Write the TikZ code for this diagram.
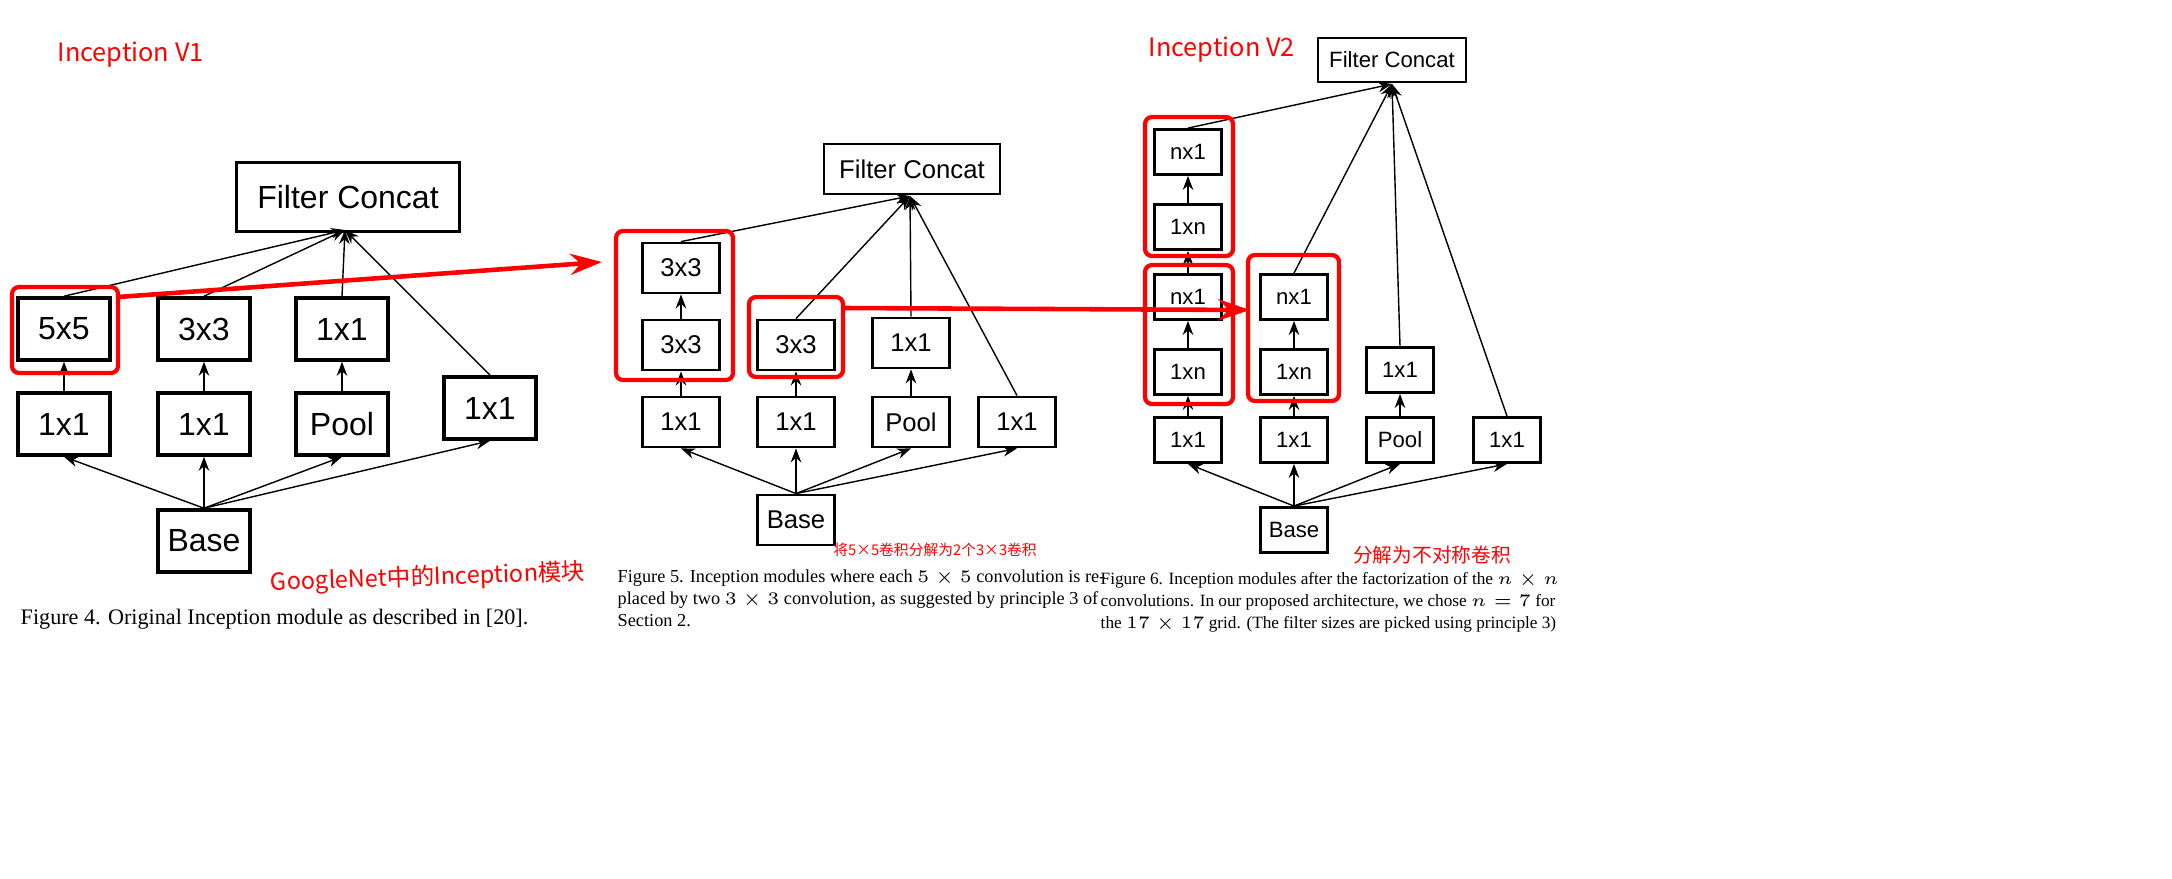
\documentclass[tikz,border=0pt]{standalone}
\usepackage{fontspec}
\setmainfont{Liberation Serif}
\newfontfamily\boxf{Liberation Sans}
\newfontfamily\cjk{Noto Sans CJK SC}
\usetikzlibrary{arrows.meta}
\begin{document}
\begin{tikzpicture}[x=0.01cm,y=-0.01cm,
 bA/.style={draw,line width=1pt,minimum width=0.92cm,minimum height=0.62cm,font=\boxf\fontsize{9.1}{11}\selectfont,inner sep=0},
 bB/.style={draw,line width=0.8pt,minimum width=0.77cm,minimum height=0.5cm,font=\boxf\fontsize{7.3}{9}\selectfont,inner sep=0},
 bC/.style={draw,line width=0.8pt,minimum width=0.67cm,minimum height=0.45cm,font=\boxf\fontsize{6.3}{8}\selectfont,inner sep=0},
 ar/.style={-{Stealth[length=4pt,width=3pt]},line width=0.4pt},
 rb/.style={draw=red,line width=1.2pt,rounded corners=2pt},
 ra/.style={red,line width=1.3pt,-{Stealth[length=9pt,width=6pt]}},
 captxt/.style={anchor=west,align=left,inner sep=0},
 hw/.style={red}]
\useasboundingbox (0,0) rectangle (2172,879);
% titles
\node[red,font=\cjk\fontsize{7.2}{9}\selectfont,anchor=west,inner sep=0] (t1) at (57,55) {Inception V1};
\node[red,font=\cjk\fontsize{7.2}{9}\selectfont,anchor=west,inner sep=0] (t2) at (1148,50) {Inception V2};
% ---- Figure 4
\node[bA,minimum width=2.23cm,minimum height=0.69cm] (fc4) at (348,197) {Filter Concat};
\node[bA] (a55) at (64,329) {5x5};
\node[bA] (a33) at (204,329) {3x3};
\node[bA] (a11t) at (342,329) {1x1};
\node[bA] (a11a) at (64,424) {1x1};
\node[bA] (a11b) at (204,424) {1x1};
\node[bA] (apool) at (342,424) {Pool};
\node[bA] (a11r) at (490,408) {1x1};
\node[bA] (abase) at (204,541) {Base};
\coordinate (c4) at (345,230);
\foreach \n in {a55,a33,a11t,a11r} \draw[ar] (\n.north) -- (c4);
\draw[ar] (a11a) -- (a55); \draw[ar] (a11b) -- (a33); \draw[ar] (apool) -- (a11t);
\foreach \n in {a11a,a11b,apool,a11r} \draw[ar] (abase.north) -- (\n.south);
\draw[rb] (12,287) rectangle (118,373);
\node[captxt,font=\fontsize{6.3}{7.6}\selectfont] (cap4) at (20,619) {Figure 4. Original Inception module as described in [20].};
\node[hw,rotate=2,font=\cjk\fontsize{6.7}{8}\selectfont] (h4) at (428,578) {GoogleNet中的Inception模块};
% ---- Figure 5
\node[bB,minimum width=1.76cm] (fc5) at (912,169) {Filter Concat};
\node[bB] (b33t) at (681,268) {3x3};
\node[bB] (b33l) at (681,345) {3x3};
\node[bB] (b33m) at (796,345) {3x3};
\node[bB] (b11t) at (911,343) {1x1};
\node[bB] (b11a) at (681,422) {1x1};
\node[bB] (b11b) at (796,422) {1x1};
\node[bB] (bpool) at (911,422) {Pool};
\node[bB] (b11r) at (1017,422) {1x1};
\node[bB] (bbase) at (796,520) {Base};
\coordinate (c5) at (910,196);
\foreach \n in {b33t,b33m,b11t,b11r} \draw[ar] (\n.north) -- (c5);
\draw[ar] (b33l) -- (b33t); \draw[ar] (b11a) -- (b33l); \draw[ar] (b11b) -- (b33m); \draw[ar] (bpool) -- (b11t);
\foreach \n in {b11a,b11b,bpool,b11r} \draw[ar] (bbase.north) -- (\n.south);
\draw[rb] (616,231) rectangle (733,380);
\draw[rb] (749,297) rectangle (843,377);
\node[captxt,font=\fontsize{5.2}{6.3}\selectfont] (cap5) at (617,598) {Figure 5. Inception modules where each $5\times5$ convolution is re-\\placed by two $3\times3$ convolution, as suggested by principle 3 of\\Section 2.};
\node[hw,font=\cjk\fontsize{4.2}{5}\selectfont] (h5) at (935,550) {将5×5卷积分解为2个3×3卷积};
% ---- Figure 6
\node[bC,minimum width=1.48cm,minimum height=0.44cm] (fc6) at (1392,60) {Filter Concat};
\node[bC] (cn1a) at (1188,152) {nx1};
\node[bC] (c1na) at (1188,227) {1xn};
\node[bC] (cn1b) at (1188,297) {nx1};
\node[bC] (c1nb) at (1188,372) {1xn};
\node[bC] (cn1c) at (1294,297) {nx1};
\node[bC] (c1nc) at (1294,372) {1xn};
\node[bC] (c11t) at (1400,370) {1x1};
\node[bC] (c11a) at (1188,440) {1x1};
\node[bC] (c11b) at (1294,440) {1x1};
\node[bC] (cpool) at (1400,440) {Pool};
\node[bC] (c11r) at (1507,440) {1x1};
\node[bC] (cbase) at (1294,530) {Base};
\coordinate (c6) at (1392,84);
\foreach \n in {cn1a,cn1c,c11t,c11r} \draw[ar] (\n.north) -- (c6);
\draw[ar] (c1na) -- (cn1a); \draw[ar] (cn1b) -- (c1na); \draw[ar] (c1nb) -- (cn1b); \draw[ar] (c11a) -- (c1nb);
\draw[ar] (c1nc) -- (cn1c); \draw[ar] (c11b) -- (c1nc); \draw[ar] (cpool) -- (c11t);
\foreach \n in {c11a,c11b,cpool,c11r} \draw[ar] (cbase.north) -- (\n.south);
\draw[rb] (1145,117) rectangle (1233,256);
\draw[rb] (1145,265) rectangle (1233,404);
\draw[rb] (1248,255) rectangle (1339,401);
\node[captxt,font=\fontsize{4.9}{6.3}\selectfont] (cap6) at (1100,602) {Figure 6. Inception modules after the factorization of the $n\times n$\\convolutions. In our proposed architecture, we chose $n=7$ for\\the $17\times17$ grid. (The filter sizes are picked using principle 3)};
\node[hw,font=\cjk\fontsize{5.6}{7}\selectfont] (h6) at (1432,555) {分解为不对称卷积};
% red arrows
\coordinate (r1) at (118,297); \coordinate (r2) at (602,262);
\draw[ra] (r1) -- (r2);
\coordinate (r3) at (843,308); \coordinate (r4) at (1250,310);
\draw[ra] (r3) -- (r4);
\end{tikzpicture}
\end{document}
